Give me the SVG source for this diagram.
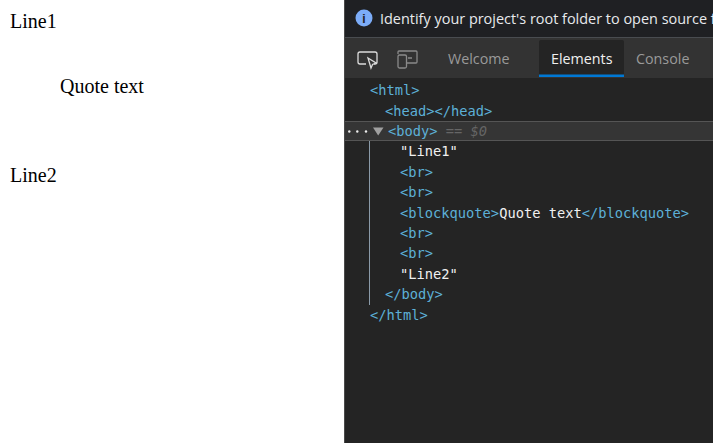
<svg xmlns="http://www.w3.org/2000/svg" width="713" height="443" viewBox="0 0 713 443">
<style>
.page{font-family:"Liberation Serif",serif;font-size:20px;fill:#000}
.ui{font-family:"Open Sans","Noto Sans",sans-serif;font-size:14.3px}
.code{font-family:"DejaVu Sans Mono","Liberation Mono",monospace;font-size:13.72px;fill:#5db0d7}
.icon{fill:none;stroke:#dcdcdc;stroke-width:1.3}
</style>
<rect width="713" height="443" fill="#fff"/>
<text class="page" x="10" y="28">Line1</text>
<text class="page" x="60" y="93">Quote text</text>
<text class="page" x="10" y="182">Line2</text>
<rect x="344" y="0" width="369" height="443" fill="#242424"/>
<rect x="344" y="0" width="1" height="443" fill="#4a4a4a"/>
<rect x="345" y="0" width="368" height="37" fill="#1f2023"/>
<rect x="345" y="37" width="368" height="1" fill="#494c50"/>
<rect x="345" y="38" width="368" height="40" fill="#333"/>
<rect x="539" y="40" width="85" height="37" rx="2" fill="#242424"/>
<rect x="539" y="74.500" width="85" height="2.500" fill="#0078d4"/>
<circle cx="364" cy="18" r="8.500" fill="#7cacf8"/>
<text x="364" y="23" text-anchor="middle" style="font-family:'Liberation Sans',sans-serif;font-size:12px;font-weight:bold;fill:#1f2023">i</text>
<text class="ui" x="380" y="24" fill="#e8eaed" style="font-size:14.45px">Identify your project's root folder to open source f</text>
<path class="icon" d="M366 64H360Q358 64 358 62V54Q358 52 360 52H375Q377 52 377 54V62Q377 64 375 64H374"/>
<path d="M368 58L376 63L372.500 64.500L371 68Z" fill="#333" stroke="#dcdcdc" stroke-width="1.300"/>
<path d="M398 54V52Q398 51 399 51H416Q417 51 417 52V62Q417 63 416 63H407M408 58H412" fill="none" stroke="#8a8a8a" stroke-width="1.300"/>
<rect x="398" y="55" width="8.500" height="13" rx="1.500" fill="none" stroke="#8a8a8a" stroke-width="1.300"/>
<text class="ui" x="448" y="64" fill="#9a9a9a">Welcome</text>
<text class="ui" x="551" y="64" fill="#f0f0f0">Elements</text>
<text class="ui" x="636" y="64" fill="#9a9a9a">Console</text>
<rect x="345" y="121" width="368" height="20" fill="#353535"/>
<rect x="345" y="121" width="368" height="1" fill="#555"/>
<rect x="345" y="140" width="368" height="1" fill="#555"/>
<circle cx="349.300" cy="131.500" r="1.200" fill="#eee"/>
<circle cx="357.300" cy="131.500" r="1.200" fill="#eee"/>
<circle cx="366" cy="131.500" r="1.200" fill="#eee"/>
<path d="M373 127.500H383.500L378.200 135.500Z" fill="#a0a0a0"/>
<rect x="369" y="141" width="1" height="164" fill="#8a9aa8"/>
<text class="code" x="370" y="95">&lt;html&gt;</text>
<text class="code" x="385" y="116">&lt;head&gt;&lt;/head&gt;</text>
<text class="code" x="388" y="136">&lt;body&gt;<tspan fill="#666"> == </tspan><tspan fill="#666" font-style="italic">$0</tspan></text>
<text class="code" x="400" y="156" style="fill:#f0f0f0">"Line1"</text>
<text class="code" x="400" y="177">&lt;br&gt;</text>
<text class="code" x="400" y="197">&lt;br&gt;</text>
<text class="code" x="400" y="218">&lt;blockquote&gt;<tspan fill="#f0f0f0">Quote text</tspan>&lt;/blockquote&gt;</text>
<text class="code" x="400" y="238">&lt;br&gt;</text>
<text class="code" x="400" y="258">&lt;br&gt;</text>
<text class="code" x="400" y="279" style="fill:#f0f0f0">"Line2"</text>
<text class="code" x="385" y="299">&lt;/body&gt;</text>
<text class="code" x="370" y="320">&lt;/html&gt;</text>
</svg>
